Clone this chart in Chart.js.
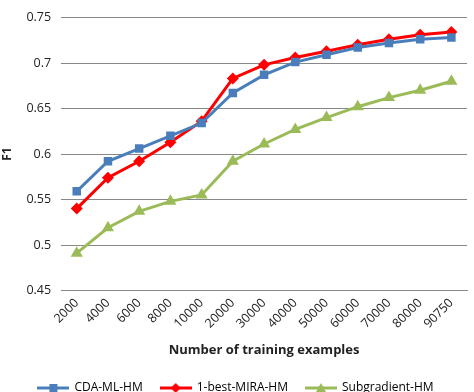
<!DOCTYPE html>
<html>
<head>
<meta charset="utf-8">
<script src="https://cdn.jsdelivr.net/npm/chart.js@4/dist/chart.umd.min.js"></script>
<style>
  html, body { margin: 0; padding: 0; background: #fff; }
  #wrap { width: 474px; height: 392px; position: relative; }
</style>
</head>
<body>
<div id="wrap"><canvas id="f1Chart"></canvas></div>
<script>
const trainingSizes = ['2000', '4000', '6000', '8000', '10000', '20000', '30000', '40000', '50000', '60000', '70000', '80000', '90750'];
const cdaMlHm = [0.559, 0.592, 0.606, 0.620, 0.634, 0.667, 0.687, 0.701, 0.709, 0.717, 0.722, 0.726, 0.728];
const bestMiraHm = [0.540, 0.574, 0.592, 0.613, 0.636, 0.683, 0.698, 0.706, 0.713, 0.720, 0.726, 0.731, 0.734];
const subgradientHm = [0.491, 0.519, 0.537, 0.548, 0.555, 0.592, 0.611, 0.627, 0.640, 0.652, 0.662, 0.670, 0.680];
const yTicks = [0.45, 0.5, 0.55, 0.6, 0.65, 0.7, 0.75];

const FONT = "'Open Sans', 'Liberation Sans', sans-serif";

// legend icon: short line with the marker in the middle
function legendIcon(color, style) {
    const c = document.createElement('canvas');
    c.width = 32; c.height = 14;
    const g = c.getContext('2d');
    g.strokeStyle = color;
    g.fillStyle = color;
    g.lineWidth = 3;
    g.beginPath(); g.moveTo(0, 7); g.lineTo(32, 7); g.stroke();
    g.beginPath();
    if (style === 'rect') {
        g.rect(12, 3, 8, 8);
    } else if (style === 'rectRot') {
        g.moveTo(16, 2); g.lineTo(21, 7); g.lineTo(16, 12); g.lineTo(11, 7); g.closePath();
    } else {
        g.moveTo(16, 2); g.lineTo(21, 11); g.lineTo(11, 11); g.closePath();
    }
    g.fill();
    return c;
}

const series = [
    { label: 'CDA-ML-HM', data: cdaMlHm, color: '#4a7ebb', style: 'rect', radius: 6 },
    { label: '1-best-MIRA-HM', data: bestMiraHm, color: '#ff0000', style: 'rectRot', radius: 6 },
    { label: 'Subgradient-HM', data: subgradientHm, color: '#9bbb59', style: 'triangle', radius: 7 },
];

new Chart(document.getElementById('f1Chart'), {
    type: 'line',
    data: {
        labels: trainingSizes,
        datasets: series.map(s => ({
            label: s.label,
            data: s.data,
            borderColor: s.color,
            backgroundColor: s.color,
            borderWidth: 3,
            pointStyle: s.style,
            pointRadius: s.radius,
            pointBorderWidth: 0,
            tension: 0,
            legendIcon: legendIcon(s.color, s.style),
        })),
    },
    options: {
        responsive: true,
        maintainAspectRatio: false,
        animation: false,
        layout: { padding: { top: 4, right: 2, left: 0, bottom: -12 } },
        plugins: {
            legend: {
                position: 'bottom',
                labels: {
                    usePointStyle: true,
                    pointStyleWidth: 30,
                    font: { family: FONT, size: 12 },
                    color: '#222',
                    padding: 18,
                    generateLabels(chart) {
                        return chart.data.datasets.map((ds, i) => ({
                            text: ds.label,
                            pointStyle: ds.legendIcon,
                            fillStyle: ds.borderColor,
                            strokeStyle: ds.borderColor,
                            lineWidth: 0,
                            hidden: !chart.isDatasetVisible(i),
                            datasetIndex: i,
                        }));
                    },
                },
            },
            tooltip: { enabled: false },
        },
        scales: {
            y: {
                min: 0.45,
                max: 0.75,
                afterBuildTicks: axis => { axis.ticks = yTicks.map(v => ({ value: v })); },
                ticks: {
                    callback: v => String(v),
                    font: { family: FONT, size: 12.5 },
                    color: '#222',
                    padding: 10,
                },
                grid: { color: '#888', drawTicks: false },
                border: { display: false },
                title: {
                    display: true,
                    text: 'F1',
                    font: { family: FONT, size: 12, weight: 'bold' },
                    color: '#222',
                    padding: { top: 0, bottom: 2 },
                },
            },
            x: {
                offset: true,
                ticks: {
                    font: { family: FONT, size: 12.5 },
                    color: '#222',
                    maxRotation: 45,
                    minRotation: 45,
                    padding: 5,
                },
                grid: { display: false, drawTicks: false },
                border: { color: '#888' },
                title: {
                    display: true,
                    text: 'Number of training examples',
                    font: { family: FONT, size: 13, weight: 'bold' },
                    color: '#222',
                    padding: { top: 6, bottom: 6 },
                },
            },
        },
    },
});
</script>
</body>
</html>
